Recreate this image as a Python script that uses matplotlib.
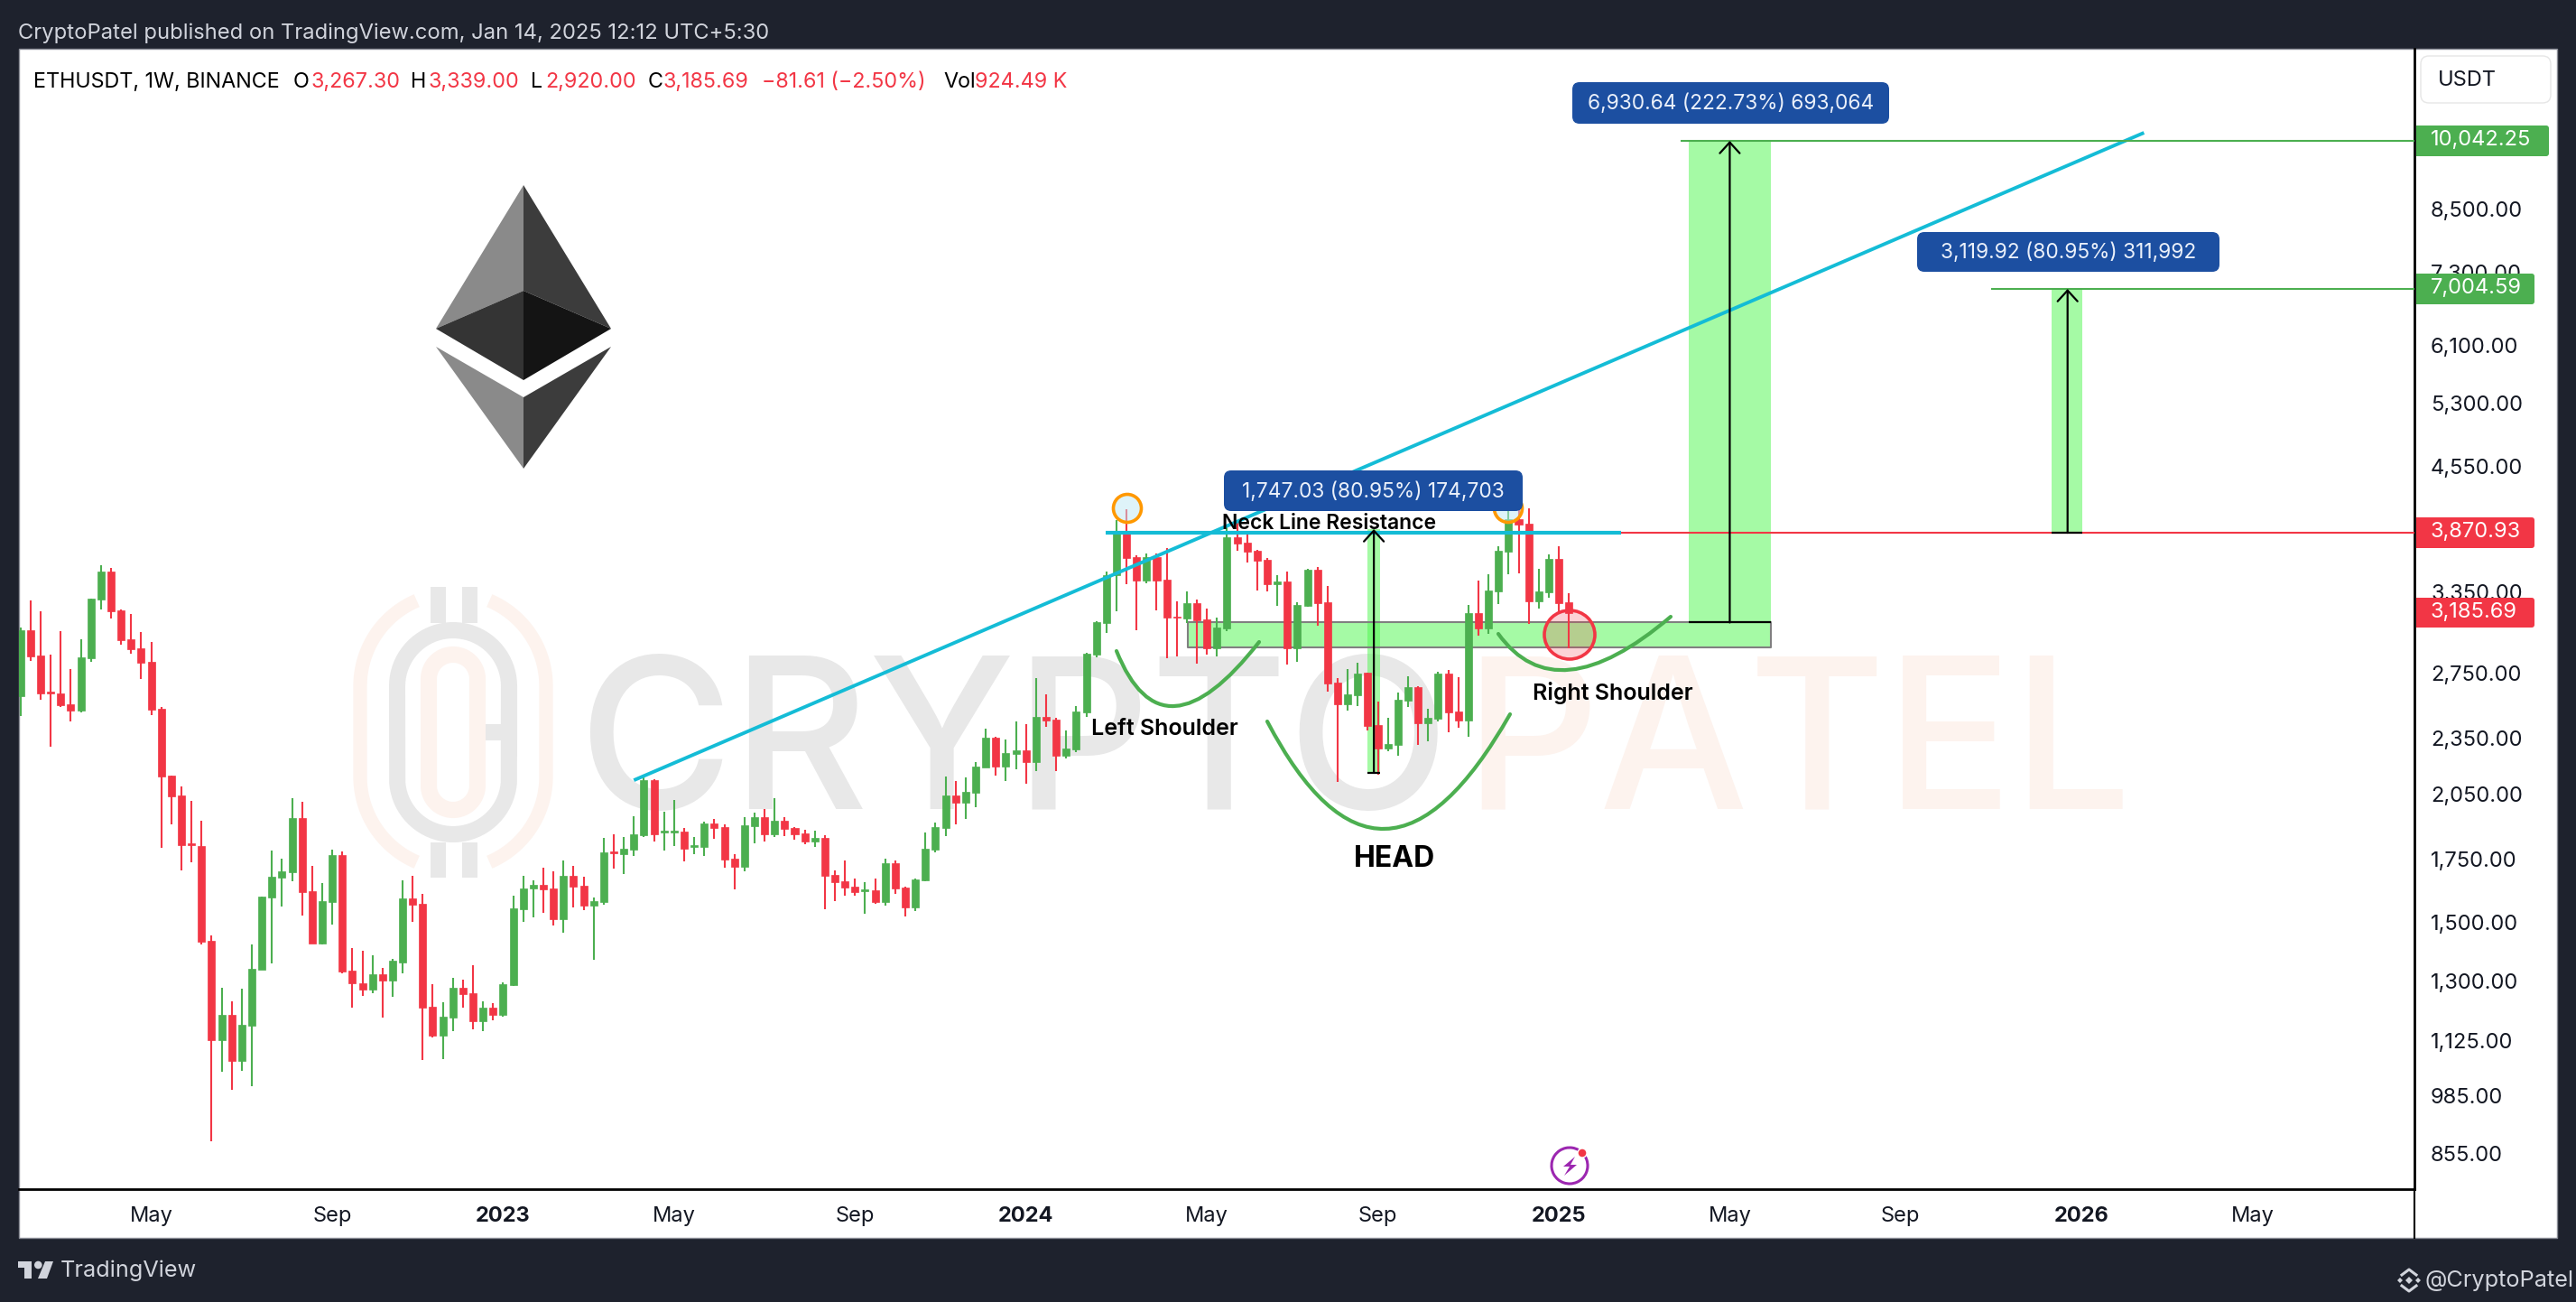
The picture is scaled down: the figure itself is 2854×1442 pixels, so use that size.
import numpy as np
import matplotlib
matplotlib.use('Agg')
import matplotlib.pyplot as plt
from matplotlib.patches import FancyBboxPatch, PathPatch, Polygon, Circle, Ellipse, Arc, Rectangle
from matplotlib.path import Path

W, H = 2854, 1442

# weekly ETHUSDT candles
opens = [2599, 3054, 2872, 2631, 2619, 2550, 2510, 2852, 3292, 3521, 3205, 2986, 2923, 2827, 2521, 2143, 2043, 1818, 1806, 1435, 1127, 1198,
         1071, 1166, 1337, 1594, 1673, 1696, 1933, 1618, 1425, 1577, 1768, 1334, 1294, 1274, 1322, 1302, 1361, 1591, 1570, 1223, 1139, 1190,
         1280, 1263, 1179, 1220, 1198, 1289, 1549, 1629, 1643, 1629, 1513, 1681, 1640, 1563, 1577, 1784, 1772, 1792, 1855, 2121, 1868, 1868,
         1870, 1804, 1803, 1909, 1893, 1753, 1718, 1896, 1938, 1859, 1921, 1888, 1863, 1827, 1843, 1684, 1658, 1637, 1620, 1622, 1577, 1733,
         1633, 1556, 1662, 1791, 1888, 2043, 2007, 2057, 2187, 2351, 2192, 2260, 2280, 2216, 2473, 2457, 2250, 2285, 2501, 2878, 3108, 3489,
         3880, 3648, 3448, 3648, 3453, 3158, 3142, 3262, 3135, 2925, 3067, 3829, 3779, 3705, 3624, 3418, 3438, 2925, 3240, 3538, 3269, 2689,
         2550, 2607, 2752, 2423, 2290, 2310, 2573, 2659, 2436, 2462, 2748, 2506, 2452, 3184, 3067, 3356, 3697, 4001, 3957, 3276, 3349, 3632, 3267.30]
highs = [3075, 3285, 3198, 2878, 3047, 2780, 2986, 3300, 3577, 3553, 3212, 3176, 3040, 2966, 2533, 2143, 2089, 2015, 1920, 1454, 1280, 1238,
         1277, 1422, 1598, 1788, 1752, 2029, 2013, 1721, 1651, 1792, 1784, 1410, 1400, 1384, 1343, 1372, 1662, 1681, 1609, 1292, 1235, 1311,
         1305, 1352, 1238, 1232, 1297, 1602, 1681, 1662, 1713, 1700, 1744, 1721, 1677, 1594, 1842, 1859, 1847, 1942, 2143, 2124, 1964, 2021,
         1886, 1845, 1917, 1930, 1903, 1771, 1938, 1960, 1977, 2030, 1938, 1892, 1879, 1875, 1855, 1703, 1744, 1669, 1655, 1669, 1752, 1744,
         1637, 1669, 1867, 1913, 2139, 2116, 2135, 2216, 2404, 2357, 2341, 2446, 2430, 2718, 2613, 2468, 2393, 2539, 2891, 3122, 3522, 3992,
         4099, 3664, 3678, 3678, 3727, 3276, 3356, 3291, 3219, 3149, 3943, 3972, 3885, 3710, 3638, 3489, 3520, 3267, 3546, 3559, 3398, 2720,
         2779, 2822, 2754, 2565, 2468, 2626, 2730, 2665, 2521, 2760, 2772, 2724, 3247, 3443, 3499, 3746, 4090, 4105, 4105, 3546, 3672, 3746, 3339.00]
lows = [2479, 2833, 2579, 2300, 2533, 2446, 2502, 2827, 3212, 3141, 2950, 2884, 2712, 2485, 1800, 1905, 1703, 1736, 1422, 881, 1043, 998,
        1045, 1007, 1337, 1358, 1559, 1658, 1526, 1425, 1422, 1492, 1325, 1220, 1254, 1263, 1190, 1252, 1325, 1503, 1074, 1134, 1076, 1152,
        1220, 1157, 1152, 1182, 1193, 1286, 1503, 1519, 1535, 1489, 1463, 1556, 1545, 1371, 1566, 1709, 1688, 1763, 1848, 1827, 1787, 1805,
        1740, 1771, 1763, 1839, 1714, 1626, 1699, 1819, 1827, 1847, 1851, 1835, 1815, 1803, 1549, 1580, 1601, 1601, 1532, 1570, 1563, 1608,
        1522, 1542, 1658, 1779, 1851, 1904, 1930, 1986, 2187, 2144, 2116, 2177, 2102, 2168, 2414, 2168, 2236, 2270, 2473, 2859, 3034, 3200,
        3418, 3056, 3423, 3205, 2853, 2867, 3108, 2815, 2878, 2867, 3047, 3705, 3603, 3364, 3356, 3240, 2809, 2826, 3233, 3090, 2632, 2113,
        2513, 2541, 2395, 2150, 2275, 2252, 2532, 2310, 2333, 2444, 2383, 2409, 2358, 3014, 3027, 3255, 3499, 3507, 3101, 3219, 3305, 3200, 2920.00]
closes = [3054, 2865, 2619, 2619, 2544, 2510, 2859, 3300, 3521, 3198, 2980, 2917, 2820, 2516, 2139, 2038, 1810, 1810, 1432, 1127, 1198, 1071,
          1169, 1340, 1598, 1677, 1700, 1933, 1616, 1425, 1580, 1768, 1331, 1293, 1274, 1322, 1302, 1366, 1591, 1566, 1220, 1139, 1193, 1280,
          1260, 1179, 1220, 1198, 1292, 1552, 1629, 1643, 1625, 1513, 1681, 1636, 1563, 1580, 1780, 1776, 1796, 1859, 2121, 1859, 1875, 1875,
          1795, 1811, 1909, 1889, 1748, 1718, 1900, 1938, 1859, 1921, 1885, 1859, 1827, 1843, 1680, 1655, 1633, 1615, 1626, 1577, 1733, 1629,
          1556, 1666, 1795, 1892, 2043, 2007, 2061, 2192, 2351, 2192, 2265, 2280, 2216, 2473, 2452, 2250, 2290, 2506, 2884, 3115, 3492, 3880,
          3643, 3448, 3648, 3448, 3151, 3151, 3262, 3128, 2925, 3074, 3829, 3773, 3697, 3616, 3418, 3438, 2925, 3247, 3538, 3262, 2685, 2550,
          2613, 2748, 2420, 2290, 2316, 2579, 2659, 2436, 2468, 2748, 2501, 2452, 3184, 3067, 3364, 3705, 4001, 3949, 3276, 3356, 3632, 3262, 3185.69]

price_ticks = [8500, 7300, 6100, 5300, 4550, 3850, 3350, 2750, 2350, 2050, 1750, 1500, 1300, 1125, 985, 855]
time_ticks = [13, 31, 48, 65, 83, 100, 118, 135, 153, 170, 187, 205, 222]
time_labels = ['May', 'Sep', '2023', 'May', 'Sep', '2024', 'May', 'Sep', '2025', 'May', 'Sep', '2026', 'May']

target_high = 10042.25
target_mid = 7004.59
neck = 3870.93
last_close = 3185.69
zone_top = 3111.61
zone_bottom = 2930
head_base = 2158.2
head_top = 3905.2
trend_x = [61, 211.2]
trend_y = [2120, 10243]

GREEN = '#4caf50'
RED = '#f23645'
CYAN = '#14bcd6'
BLUE = '#1c4fa1'
DARK = '#1e222d'
FONT = 'Inter'

plt.rcParams['font.family'] = [FONT, 'DejaVu Sans']

fig = plt.figure(figsize=(W / 100, H / 100), dpi=100, facecolor=DARK)


def box(x0, y0, x1, y1):
    # figure pixels, y from the top
    return [x0 / W, 1 - y1 / H, (x1 - x0) / W, (y1 - y0) / H]


def pixel_axes(zorder):
    a = fig.add_axes([0, 0, 1, 1], zorder=zorder)
    a.set_xlim(0, W)
    a.set_ylim(H, 0)
    a.axis('off')
    a.patch.set_alpha(0)
    return a


# white panel and watermark underneath the chart
bg = pixel_axes(0)
bg.add_patch(Rectangle((21, 54), 2812, 1317, fc='white', ec='#8a8d96', lw=1))

GRAY_WM = '#e8e8e8'
PEACH_WM = '#fdf3ee'


def stadium(cx, r, top, bot, a0, a1, n=40):
    # part of a rounded outline, walking anticlockwise from a0 to a1 (degrees, 0 = right, 90 = up)
    pts = []
    for a in np.linspace(a0, a1, n):
        ang = np.radians(a)
        cy = top if 0 <= a % 360 <= 180 else bot
        pts.append((cx + r * np.cos(ang), cy - r * np.sin(ang)))
    return np.array(pts)


up = stadium(502, 62, 760, 862, 0, 180)
dn = stadium(502, 62, 760, 862, 180, 360)
gray = np.vstack([[(520, 811), (564, 811)], up, dn, [(564, 838)]])
bg.plot(gray[:, 0], gray[:, 1], color=GRAY_WM, lw=13, solid_capstyle='butt', solid_joinstyle='miter')
for x0 in (477, 512):
    bg.add_patch(Rectangle((x0, 650), 17, 40, fc=GRAY_WM, ec='none'))
    bg.add_patch(Rectangle((x0, 933), 17, 39, fc=GRAY_WM, ec='none'))
outer_l = np.vstack([stadium(502, 103, 760, 860, 113, 180), stadium(502, 103, 760, 860, 180, 247)])
outer_r = np.vstack([stadium(502, 103, 760, 860, 67, 0), stadium(502, 103, 760, 860, 360, 293)])
for o in (outer_l, outer_r):
    bg.plot(o[:, 0], o[:, 1], color=PEACH_WM, lw=11, solid_capstyle='butt')
inner = np.vstack([[(529, 783)], stadium(502, 27, 752, 870, 0, 180), stadium(502, 27, 752, 870, 180, 360), [(529, 840)]])
bg.plot(inner[:, 0], inner[:, 1], color=PEACH_WM, lw=13, solid_capstyle='butt')
bg.text(640, 835, 'CRYPTO', fontsize=168, fontweight='medium', color=GRAY_WM, va='center', ha='left')
bg.text(1622, 835, 'PATEL', fontsize=168, fontweight='medium', color=PEACH_WM, va='center', ha='left')

# ethereum logo
top, left, right, center = (580, 205), (483, 364), (677, 364), (580, 322)
belly, low_l, low_r, low_m, tip = (580, 421), (483, 384), (677, 384), (580, 440), (580, 519)
for pts, c in [((top, left, center), '#8a8a8a'), ((top, right, center), '#3c3c3c'),
               ((left, center, belly), '#343434'), ((center, right, belly), '#141414'),
               ((low_l, low_m, tip), '#8a8a8a'), ((low_r, low_m, tip), '#3c3c3c')]:
    bg.add_patch(Polygon(pts, closed=True, fc=c, ec='none'))

# candles
ax = fig.add_axes(box(21, 54, 2675, 1317), zorder=2)
ax.patch.set_alpha(0)
ax.set_yscale('log')
x = np.arange(len(opens))
o = np.array(opens)
c = np.array(closes)
colors = [GREEN if a >= b else RED for a, b in zip(closes, opens)]


def zone(x0, x1, y0, y1):
    ax.fill_between([x0, x1], y0, y1, color='#4df74d', alpha=0.5, lw=0, zorder=1)


zone(165.9, 174.1, zone_top, target_high)
zone(202, 205.1, neck, target_mid)
zone(133.95, 135.25, head_base, head_top)
zone(116.1, 174.1, zone_bottom, zone_top)
ax.plot([116.1, 116.1, 174.1, 174.1, 116.1], [zone_top, zone_bottom, zone_bottom, zone_top, zone_top],
        color='#808080', lw=1.5, zorder=1.5)

ax.vlines(x, lows, highs, color=colors, lw=1.5, zorder=2)
ax.bar(x, np.abs(c - o), bottom=np.minimum(o, c), width=0.72, color=colors, edgecolor=colors, linewidth=0.5, zorder=3)

ax.plot(trend_x, trend_y, color=CYAN, lw=2.8, zorder=4, solid_capstyle='butt')
ax.hlines(neck, 107.9, 159.2, color=CYAN, lw=3, zorder=4)
ax.hlines(neck, 159.2, 238.1, color=RED, lw=1.5, zorder=4)
ax.hlines(target_high, 165.1, 238.1, color=GREEN, lw=1.5, zorder=4)
ax.hlines(target_mid, 196, 238.1, color=GREEN, lw=1.5, zorder=4)

for xa, y0, y1, x0, x1 in [(170, zone_top, target_high, 165.9, 174.1),
                           (203.6, neck, target_mid, 202, 205.1),
                           (134.6, head_base, head_top, 133.95, 135.25)]:
    ax.annotate('', xy=(xa, y1), xytext=(xa, y0), zorder=5,
                arrowprops=dict(arrowstyle='->,head_length=0.36,head_width=0.33', color='black', lw=1.6,
                                mutation_scale=24, shrinkA=0, shrinkB=0))
    ax.hlines(y0, x0, x1, color='black', lw=1.6, zorder=5)

ax.set_xlim(-0.16, 238.1)
ax.set_ylim(784, 12565)
ax.yaxis.tick_right()
ax.set_yticks(price_ticks)
ax.set_yticklabels(['{:,.2f}'.format(v) for v in price_ticks])
ax.minorticks_off()
ax.set_xticks(time_ticks)
ax.set_xticklabels(time_labels)
ax.tick_params(axis='both', length=0, labelsize=17, labelcolor='#131722')
ax.tick_params(axis='y', pad=13)
ax.tick_params(axis='x', pad=14)
for lab in ax.get_xticklabels():
    if lab.get_text().startswith('20'):
        lab.set_fontweight('bold')
for s in ('top', 'left'):
    ax.spines[s].set_visible(False)
for s in ('bottom', 'right'):
    ax.spines[s].set_linewidth(2)
    ax.spines[s].set_color('black')

# everything drawn on top, in picture pixels
ov = pixel_axes(3)


def text(xp, yp, s, color='black', size=17, weight='normal', ha='left'):
    return ov.text(xp, yp + 2, s, color=color, fontsize=size, fontweight=weight, ha=ha, va='center')


def rbox(x0, y0, x1, y1, fc, round_=8, ec='none'):
    ov.add_patch(FancyBboxPatch((x0, y0), x1 - x0, y1 - y0, boxstyle='round,pad=0,rounding_size=%d' % round_,
                                fc=fc, ec=ec, lw=1))


ov.plot([2675, 2675], [1317, 1371], color='black', lw=1.5)

# head and shoulders curves
for p0, p1, p2 in [((1237, 721), (1288, 848), (1395, 711)),
                   ((1404, 799), (1531, 1041), (1673, 791)),
                   ((1660, 702), (1724, 791), (1851, 683))]:
    ov.add_patch(PathPatch(Path([p0, p1, p2], [Path.MOVETO, Path.CURVE3, Path.CURVE3]),
                           fc='none', ec=GREEN, lw=3, capstyle='round'))

# marker circles
PALE = (0.75, 0.91, 0.96, 0.5)
ov.add_patch(Circle((1249, 563), 15.5, fc=PALE, ec='#ff9800', lw=2.6))
ov.add_patch(Circle((1671, 563), 15.5, fc=PALE, ec='#ff9800', lw=2.6))
ov.add_patch(Ellipse((1739, 703), 56, 54, fc=(0.95, 0.21, 0.27, 0.22), ec=RED, lw=2.6))

text(1354, 578, 'Neck Line Resistance', size=16.5, weight='semibold')
text(1209, 805, 'Left Shoulder', size=18, weight='semibold')
text(1698, 765, 'Right Shoulder', size=18, weight='semibold')
text(1500, 949, 'HEAD', size=23, weight='bold')

# position labels
for x0, y0, x1, y1, s in [(1742, 91, 2093, 137, '6,930.64 (222.73%) 693,064'),
                          (2124, 257, 2459, 301, '3,119.92 (80.95%) 311,992'),
                          (1356, 521, 1687, 566, '1,747.03 (80.95%) 174,703')]:
    rbox(x0, y0, x1, y1, BLUE)
    text((x0 + x1) / 2, (y0 + y1) / 2 - 1, s, color='#eaf0fa', size=16.4, ha='center')

# price axis tags
for x1, y0, y1, s, fc in [(2824, 139, 173, '10,042.25', GREEN), (2808, 303, 337, '7,004.59', GREEN),
                          (2808, 573, 607, '3,870.93', RED), (2808, 662, 695, '3,185.69', RED)]:
    ov.add_patch(Rectangle((2677, y0), 10, y1 - y0, fc=fc, ec='none'))
    rbox(2680, y0, x1, y1, fc, round_=3)
    text(2693, (y0 + y1) / 2 - 3, s, color='white', size=17)

rbox(2682, 62, 2826, 114, 'white', round_=9, ec='#e6e6e6')
text(2701, 87, 'USDT', color='#131722', size=17)

# legend line
text(37, 89, 'ETHUSDT, 1W, BINANCE', size=16.8)
for xp, s, col in [(325, 'O', 'black'), (344, '3,267.30', RED), (455, 'H', 'black'), (474, '3,339.00', RED),
                   (588, 'L', 'black'), (604, '2,920.00', RED), (718, 'C', 'black'), (734, '3,185.69', RED),
                   (844, '\u221281.61 (\u22122.50%)', RED), (1045, 'Vol', 'black'), (1080, '924.49 K', RED)]:
    text(xp, 89, s, color=col, size=16.8)

# header and footer
text(20, 35, 'CryptoPatel published on TradingView.com, Jan 14, 2025 12:12 UTC+5:30', color='#d1d4dc', size=17.1)
text(67, 1405, 'TradingView', color='#d1d4dc', size=18.2)
text(2687, 1416, '@CryptoPatel', color='#d1d4dc', size=18.2)

# tradingview mark
ov.add_patch(Polygon([(20, 1397), (35, 1397), (35, 1416), (27, 1416), (27, 1404), (20, 1404)], fc='#d1d4dc', ec='none'))
ov.add_patch(Circle((42.3, 1401), 4.3, fc='#d1d4dc', ec='none'))
ov.add_patch(Polygon([(50, 1397), (59, 1397), (52, 1416), (42, 1416)], fc='#d1d4dc', ec='none'))

# binance mark
ic = (2669, 1418)
for dx, dy, s in [(0, 0, 4), (-10, 0, 3), (10, 0, 3)]:
    ov.add_patch(Polygon([(ic[0] + dx - s, ic[1] + dy), (ic[0] + dx, ic[1] + dy - s),
                          (ic[0] + dx + s, ic[1] + dy), (ic[0] + dx, ic[1] + dy + s)], fc='#d1d4dc', ec='none'))
for sgn in (-1, 1):
    ov.plot([ic[0] - 8, ic[0], ic[0] + 8], [ic[1] + sgn * 6, ic[1] + sgn * 12, ic[1] + sgn * 6], color='#d1d4dc', lw=2.2)

# lightning badge
ov.add_patch(Arc((1739, 1291), 40, 40, theta1=-40, theta2=300, ec='#9c27b0', lw=2.2))
ov.add_patch(Polygon([(1745, 1281), (1732, 1292), (1739, 1292), (1733, 1302), (1747, 1290), (1740, 1290)], fc='#9c27b0', ec='none'))
ov.add_patch(Circle((1753, 1277), 5, fc=RED, ec='white', lw=1))

fig.savefig('out.png', dpi=100, facecolor=DARK)
